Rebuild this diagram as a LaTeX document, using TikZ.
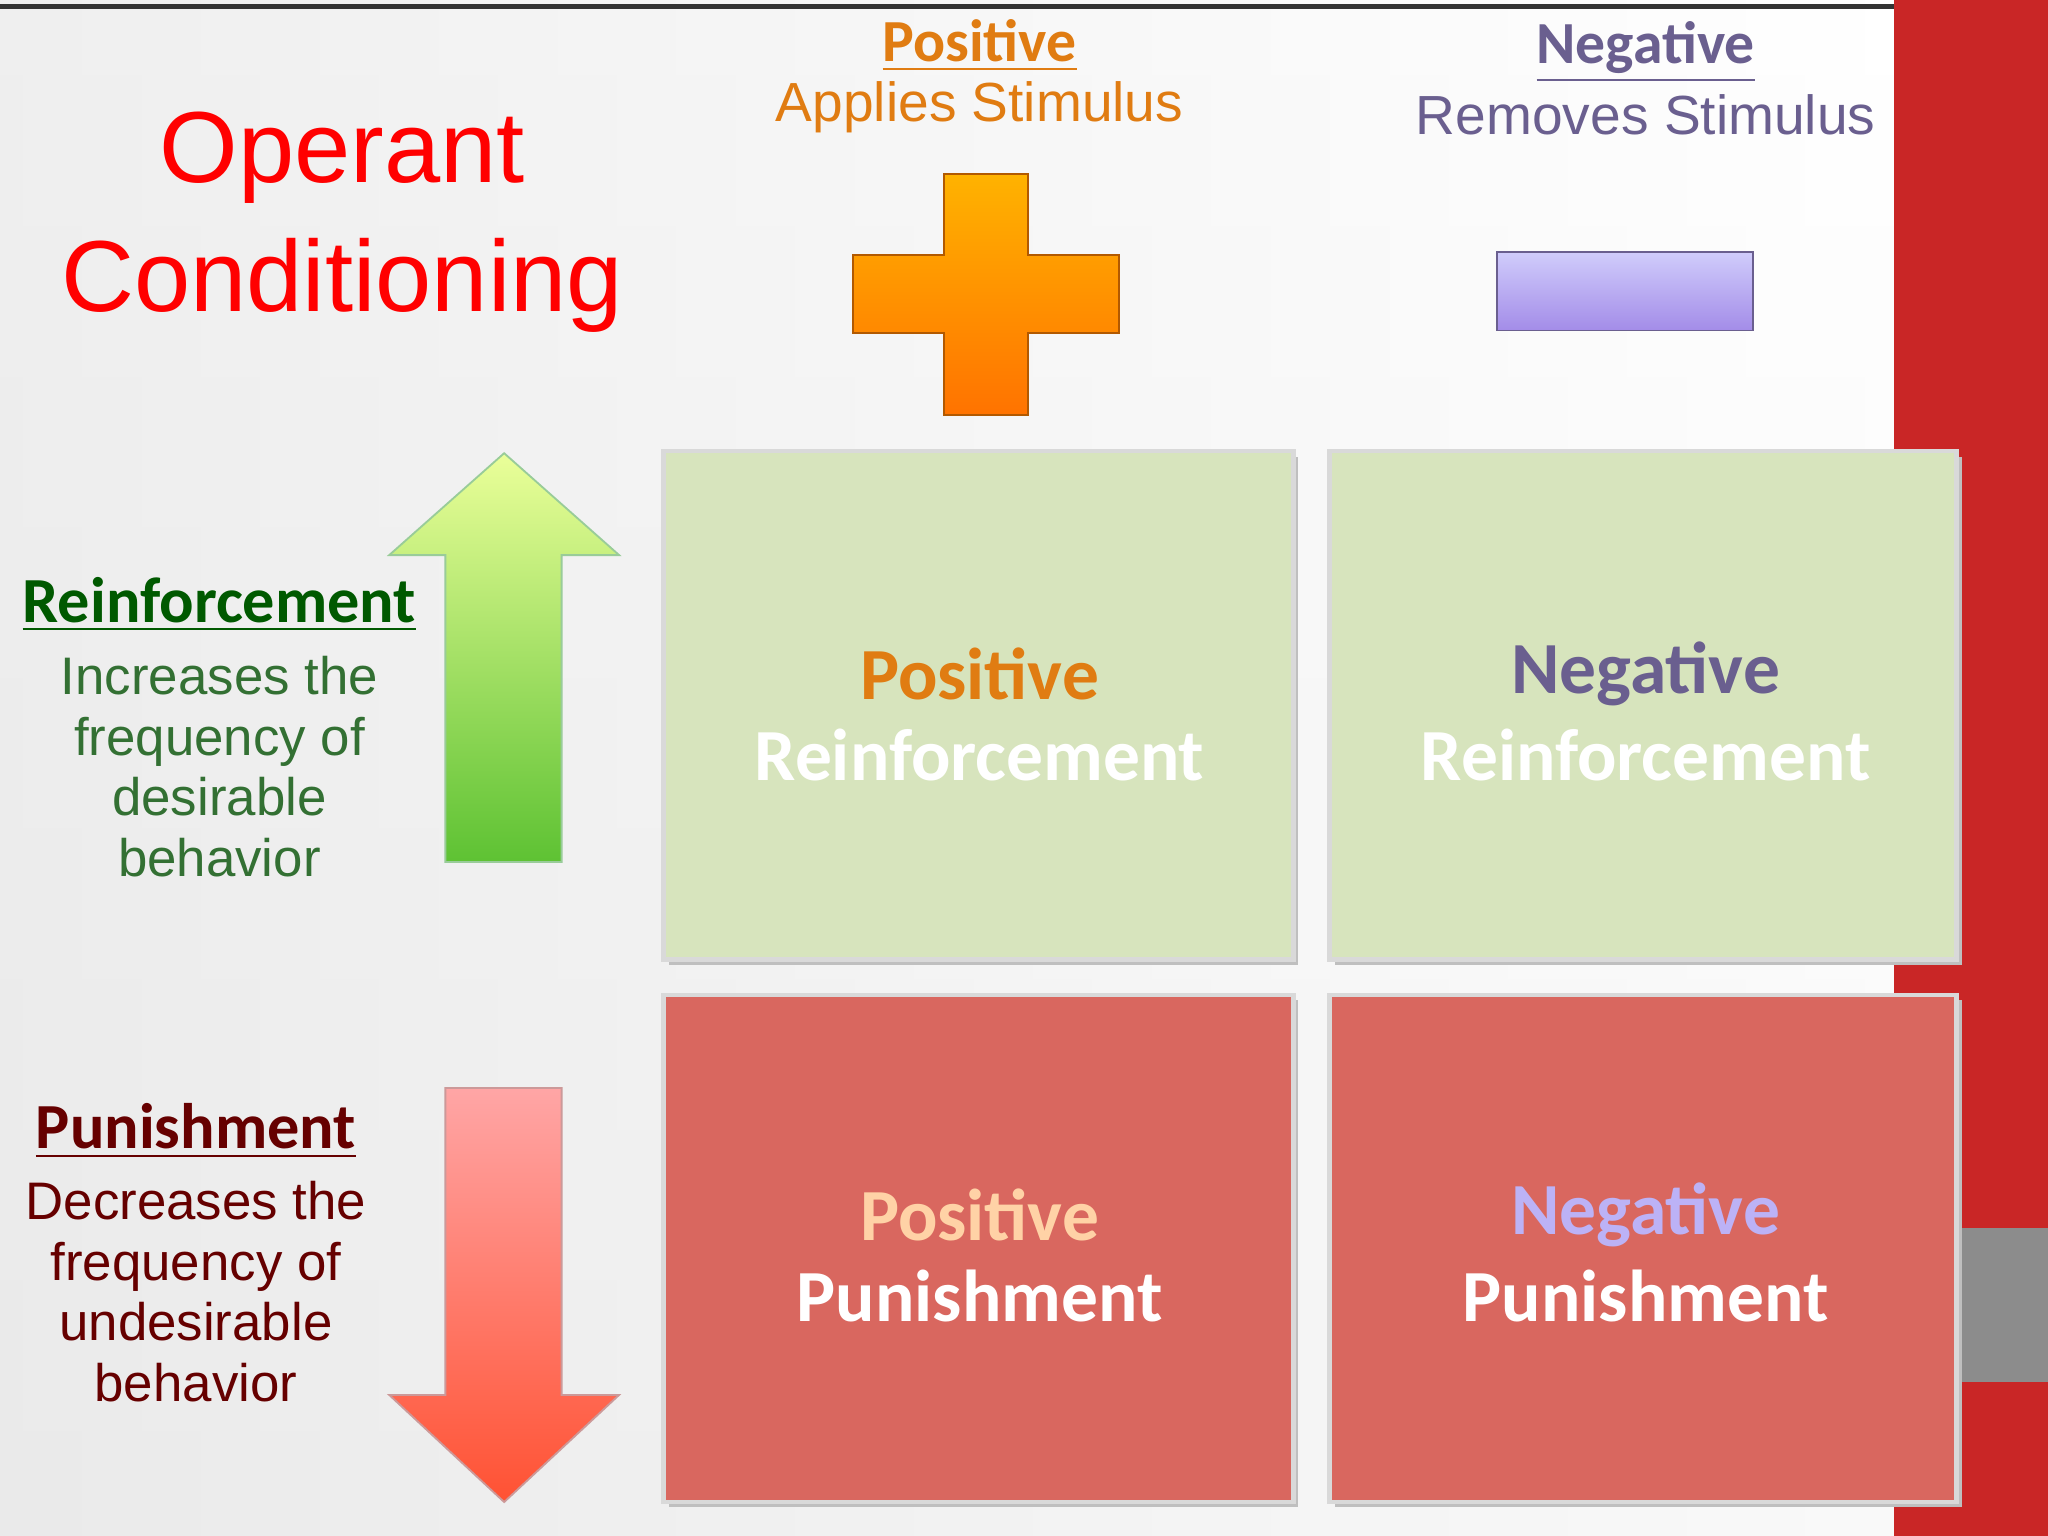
\documentclass[tikz,border=0pt]{standalone}
\usepackage{fontspec}
\setmainfont{Liberation Sans}
\newfontfamily\carl{Carlito}
\definecolor{gbox}{HTML}{D7E4BD}
\definecolor{rbox}{HTML}{D9675F}
\definecolor{purp}{HTML}{6A5F8F}
\definecolor{orng}{HTML}{E07C12}
\begin{document}
\begin{tikzpicture}[x=0.01cm,y=-0.01cm,
  hdr/.style={font=\fontsize{12}{14}\selectfont},
  big/.style={font=\carl\bfseries\fontsize{16}{19}\selectfont},
  side/.style={font=\fontsize{11.5}{13.2}\selectfont, align=center},
  box/.style={draw=white!70!gray, line width=1pt}]
\useasboundingbox (0,0) rectangle (1568,1176);
\shade[left color=gray!25, right color=white] (0,0) rectangle (1450,1176);
\shade[top color=white, bottom color=white!92!gray, opacity=0.5] (0,0) rectangle (1450,1176);
\fill[red!75!black!85] (1450,0) rectangle (1568,1176);
\fill[gray!90] (1500,940) rectangle (1568,1058);
\draw[black!80, line width=1pt] (0,5) -- (1450,5);
% title
\node[red, font=\fontsize{22}{28}\selectfont, align=center] (title) at (262,170) {Operant\\Conditioning};
% headers
\node[hdr, font=\carl\bfseries\fontsize{13}{15}\selectfont, text=orng] (ph) at (750,35) {\underline{Positive}};
\node[hdr, text=orng] (ps) at (750,82) {Applies Stimulus};
\node[hdr, font=\carl\bfseries\fontsize{13}{15}\selectfont, text=purp] (nh) at (1260,40) {\underline{Negative}};
\node[hdr, text=purp] (ns) at (1260,88) {Removes Stimulus};
% plus
\shade[top color=orange!60!yellow, bottom color=orange!90!red, draw=orange!70!black]
 (723,133) -- (787,133) -- (787,195) -- (857,195) -- (857,255) -- (787,255) -- (787,318) -- (723,318) -- (723,255) -- (653,255) -- (653,195) -- (723,195) -- cycle;
\shade[top color=violet!15!blue!20!white, bottom color=violet!40!blue!45!white, draw=purp] (1146,193) rectangle (1342,253);
% arrows
\shade[top color=green!20!yellow!40, bottom color=green!60!lime!70!black!80, draw=green!50!black!40]
 (386,347) -- (474,425) -- (430,425) -- (430,660) -- (341,660) -- (341,425) -- (298,425) -- cycle;
\shade[top color=red!35, bottom color=red!70!orange!80, draw=red!50!black!40]
 (341,833) -- (430,833) -- (430,1068) -- (474,1068) -- (386,1150) -- (298,1068) -- (341,1068) -- cycle;
% boxes
\fill[gray!50] (512,350) rectangle (994,739); \fill[gray!50] (1022,350) rectangle (1502,739);
\fill[gray!50] (512,766) rectangle (994,1154); \fill[gray!50] (1022,766) rectangle (1502,1154);
\node[box, fill=gbox, minimum width=4.82cm, minimum height=3.89cm] (pr) at (749,540) {};
\node[box, fill=gbox, minimum width=4.8cm, minimum height=3.89cm] (nr) at (1258,540) {};
\node[box, fill=rbox, minimum width=4.82cm, minimum height=3.88cm] (pp) at (749,956) {};
\node[box, fill=rbox, minimum width=4.8cm, minimum height=3.88cm] (np) at (1258,956) {};
\node[big, text=orng] (t1) at (750,516) {Positive};
\node[big, text=white] (t2) at (750,578) {Reinforcement};
\node[big, text=purp] (t3) at (1260,516) {Negative};
\node[big, text=white] (t4) at (1260,578) {Reinforcement};
\node[big, text=orange!35!white] (t5) at (750,930) {Positive};
\node[big, text=white] (t6) at (750,992) {Punishment};
\node[big, text=violet!25!blue!30!white] (t7) at (1260,930) {Negative};
\node[big, text=white] (t8) at (1260,992) {Punishment};
% side labels
\node[side, font=\carl\bfseries\fontsize{14}{16}\selectfont, text=green!35!black] (rh) at (168,463) {\underline{Reinforcement}};
\node[side, text=green!30!black!80, anchor=north] (rt) at (168,490) {Increases the\\frequency of\\desirable\\behavior};
\node[side, font=\carl\bfseries\fontsize{14}{16}\selectfont, text=red!40!black] (uh) at (150,866) {\underline{Punishment}};
\node[side, text=red!40!black, anchor=north] (ut) at (150,892) {Decreases the\\frequency of\\undesirable\\behavior};
\end{tikzpicture}
\end{document}
